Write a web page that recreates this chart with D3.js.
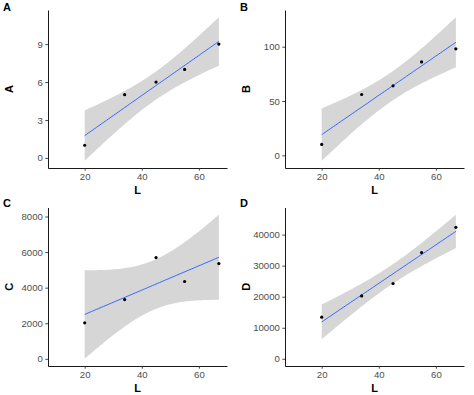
<!DOCTYPE html>
<html><head><meta charset="utf-8">
<script src="https://cdn.jsdelivr.net/npm/d3@7"></script>
<style>body{margin:0;background:#fff}svg{display:block}text{font-family:"Liberation Sans",Arial,sans-serif}</style>
</head><body><svg id="c" width="474" height="395"></svg>
<script>
const L = [20, 34, 45, 55, 67];
const xLimits = [10, 67];
const xTicks = [20, 40, 60];
const yFloor = 0;
const valsA = [1, 5, 6, 7, 9];
const valsB = [10, 56, 64, 86, 98];
const valsC = [2020, 3330, 5690, 4345, 5355];
const valsD = [13400, 20270, 24240, 34210, 42360];
const ticksA = [0, 3, 6, 9];
const ticksB = [0, 50, 100];
const ticksC = [0, 2000, 4000, 6000, 8000];
const ticksD = [0, 10000, 20000, 30000, 40000];

const panels = [
  {name: "A", vals: valsA, ticks: ticksA, x0: 48, x1: 227, y0: 10, y1: 168, ox: 0, oy: 0},
  {name: "B", vals: valsB, ticks: ticksB, x0: 285, x1: 464, y0: 10, y1: 168, ox: 237, oy: 0},
  {name: "C", vals: valsC, ticks: ticksC, x0: 48, x1: 227, y0: 207.5, y1: 366, ox: 0, oy: 196},
  {name: "D", vals: valsD, ticks: ticksD, x0: 285, x1: 464, y0: 207.5, y1: 366, ox: 237, oy: 196}
];

const svg = d3.select("#c");
const tq = 3.182446305; // t(0.975, df=3)

function expand(lo, hi){ const d=(hi-lo)*0.05; return [lo-d, hi+d]; }

panels.forEach(p => {
  const n = L.length;
  const mx = d3.mean(L), my = d3.mean(p.vals);
  let sxx=0, sxy=0;
  L.forEach((x,i)=>{ sxx+=(x-mx)**2; sxy+=(x-mx)*(p.vals[i]-my); });
  const b = sxy/sxx, a = my - b*mx;
  let sse=0; L.forEach((x,i)=>{ sse+=(p.vals[i]-(a+b*x))**2; });
  const s = Math.sqrt(sse/(n-2));
  const xs = d3.range(80).map(i => d3.min(L) + (d3.max(L)-d3.min(L))*i/79);
  const fit = xs.map(x => {
    const yh = a+b*x, se = s*Math.sqrt(1/n + (x-mx)**2/sxx);
    return {x, y: yh, lo: yh - tq*se, hi: yh + tq*se};
  });
  const ylo = Math.min(yFloor, d3.min(p.vals), d3.min(fit, d=>d.lo));
  const yhi = Math.max(d3.max(p.vals), d3.max(fit, d=>d.hi));
  const x = d3.scaleLinear().domain(expand(xLimits[0], xLimits[1])).range([p.x0, p.x1]);
  const y = d3.scaleLinear().domain(expand(ylo, yhi)).range([p.y1, p.y0]);
  const g = svg.append("g");

  g.append("path").datum(fit)
    .attr("d", d3.area().x(d=>x(d.x)).y0(d=>y(d.lo)).y1(d=>y(d.hi)))
    .attr("fill", "#999999").attr("fill-opacity", 0.4);
  g.append("path").datum(fit)
    .attr("d", d3.line().x(d=>x(d.x)).y(d=>y(d.y)))
    .attr("fill", "none").attr("stroke", "#3366FF").attr("stroke-width", 1);
  g.selectAll("circle").data(L).join("circle")
    .attr("cx", d=>x(d)).attr("cy", (d,i)=>y(p.vals[i])).attr("r", 1.6).attr("fill", "#000");

  const xa = g.append("g").attr("transform", `translate(0,${p.y1})`)
    .call(d3.axisBottom(x).tickValues(xTicks).tickSize(2.7).tickPadding(2.5).tickSizeOuter(0));
  const ya = g.append("g").attr("transform", `translate(${p.x0},0)`)
    .call(d3.axisLeft(y).tickValues(p.ticks).tickSize(2.7).tickPadding(2.5).tickSizeOuter(0).tickFormat(d3.format("d")));
  [xa, ya].forEach(ax => {
    ax.select(".domain").attr("stroke", "#000").attr("stroke-width", 0.9);
    ax.selectAll(".tick line").attr("stroke", "#333").attr("stroke-width", 0.9);
    ax.selectAll(".tick text").attr("fill", "#4d4d4d").style("font-size", "9.6px").style("font-family", '"Liberation Sans",Arial,sans-serif');
  });

  g.append("text").attr("x", (p.x0+p.x1)/2).attr("y", p.y1 + 26)
    .attr("text-anchor", "middle").style("font-size", "11px").style("font-weight", "bold").text("L");
  g.append("text").attr("transform", `translate(${p.ox+12.5},${(p.y0+p.y1)/2}) rotate(-90)`)
    .attr("text-anchor", "middle").style("font-size", "11px").style("font-weight", "bold").text(p.name);
  g.append("text").attr("x", p.ox + 3).attr("y", p.oy + 11)
    .style("font-size", "11px").style("font-weight", "bold").text(p.name);
});
</script></body></html>
